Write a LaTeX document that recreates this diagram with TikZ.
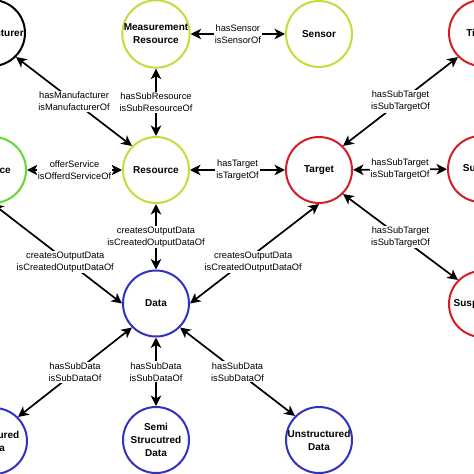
\documentclass[tikz,border=0pt]{standalone}
\usepackage{fontspec}
\setmainfont{Liberation Sans}
\usetikzlibrary{arrows.meta}
\definecolor{limec}{RGB}{200,218,60}
\definecolor{sgreen}{RGB}{100,215,50}
\definecolor{tred}{RGB}{210,30,40}
\definecolor{dblue}{RGB}{50,50,190}
\begin{document}
\begin{tikzpicture}[x=1pt,y=-1pt,
  ent/.style={circle, draw, line width=2pt, minimum size=66pt, inner sep=0pt, align=center, font=\fontsize{10}{13}\selectfont\bfseries, fill=white},
  lbl/.style={fill=white, inner sep=1pt, align=center, font=\fontsize{9.3}{12}\selectfont},
  rel/.style={{Stealth[length=10.5pt,width=10.5pt,inset=3pt]}-{Stealth[length=10.5pt,width=10.5pt,inset=3pt]}, line width=1.7pt},
]
\useasboundingbox (0,0) rectangle (474,474);
\clip (0,0) rectangle (474,474);
\fill[white] (0,0) rectangle (474,474);
% nodes
\node[ent, draw=black] (man) at (-8,33) {Manufacturer};
\node[ent, draw=limec] (mr) at (156,34) {Measurement\\Resource};
\node[ent, draw=limec] (sen) at (319,34) {Sensor};
\node[ent, draw=tred] (tis) at (482,33) {Tissue};
\node[ent, draw=sgreen] (srv) at (-7,170) {Service};
\node[ent, draw=limec] (res) at (156,170) {Resource};
\node[ent, draw=tred] (tgt) at (319,170) {Target};
\node[ent, draw=tred] (sub) at (481,169) {Subject};
\node[ent, draw=tred] (sus) at (482,304) {Suspension};
\node[ent, draw=dblue] (data) at (156,303.5) {Data};
\node[ent, draw=dblue] (str) at (-6,441) {Structured\\Data};
\node[ent, draw=dblue] (semi) at (156,440) {Semi\\Strucutred\\Data};
\node[ent, draw=dblue] (uns) at (319,440) {Unstructured\\Data};
% connectors
\draw[rel] (man.south east) -- node[lbl]{hasManufacturer\\isManufacturerOf} (res.north west);
\draw[rel] (mr) -- node[lbl]{hasSubResource\\isSubResourceOf} (res);
\draw[rel] (mr) -- node[lbl]{hasSensor\\isSensorOf} (sen);
\draw[rel] (tgt.north east) -- node[lbl]{hasSubTarget\\isSubTargetOf} (tis.south west);
\draw[rel] (srv) -- node[lbl]{offerService\\isOfferdServiceOf} (res);
\draw[rel] (res) -- node[lbl]{hasTarget\\isTargetOf} (tgt);
\draw[rel] (tgt) -- node[lbl]{hasSubTarget\\isSubTargetOf} (sub);
\draw[rel] (tgt.south east) -- node[lbl]{hasSubTarget\\isSubTargetOf} (sus.north west);
\draw[rel] (srv.south) -- node[lbl,pos=0.56,yshift=-2pt]{createsOutputData\\isCreatedOutputDataOf} (data.west);
\draw[rel] (res) -- node[lbl]{createsOutputData\\isCreatedOutputDataOf} (data);
\draw[rel] (data.east) -- node[lbl,pos=0.49,yshift=-7pt]{createsOutputData\\isCreatedOutputDataOf} (tgt.south);
\draw[rel] (str.north east) -- node[lbl]{hasSubData\\isSubDataOf} (data.south west);
\draw[rel] (data) -- node[lbl]{hasSubData\\isSubDataOf} (semi);
\draw[rel] (data.south east) -- node[lbl]{hasSubData\\isSubDataOf} (uns.north west);
\end{tikzpicture}
\end{document}
